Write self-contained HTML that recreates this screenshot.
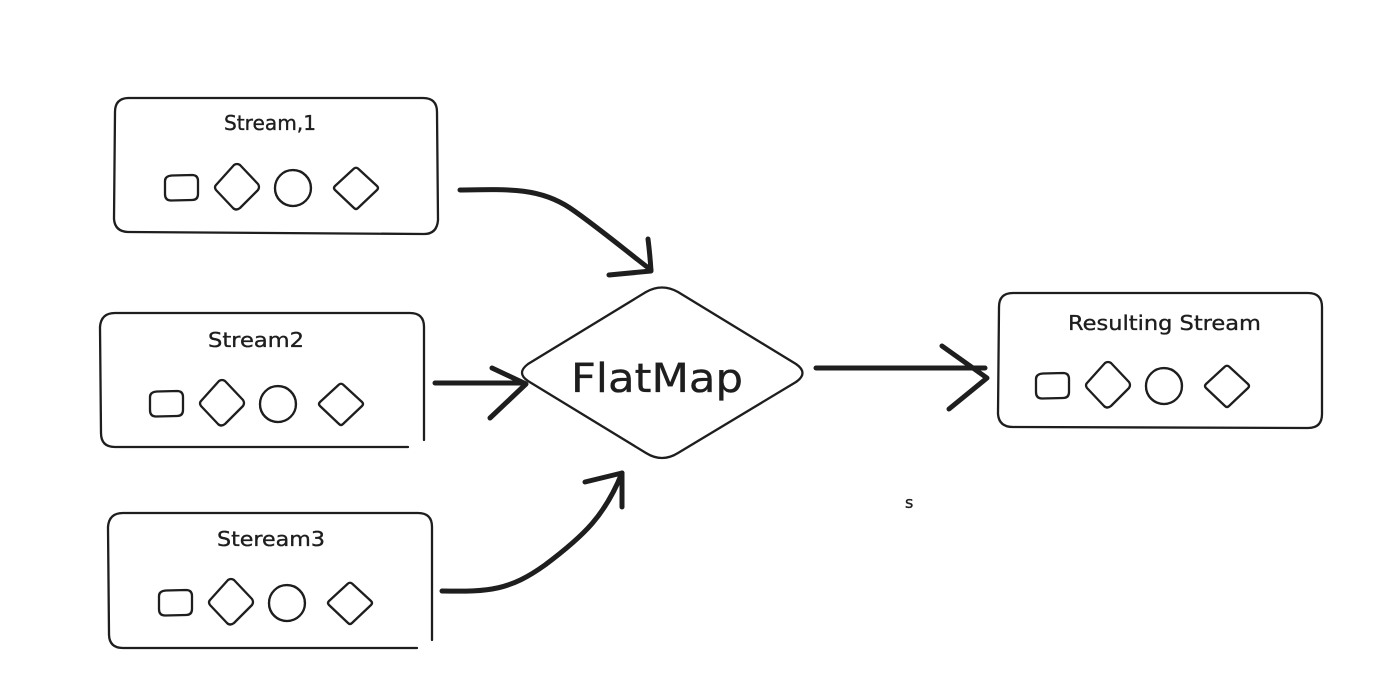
<!DOCTYPE html>
<html><head><meta charset="utf-8"><style>
html,body{margin:0;padding:0;background:#fff}
svg{display:block}
.b{fill:none;stroke:#1e1e1e;stroke-width:2.3;stroke-linecap:round;stroke-linejoin:round}
.i{fill:none;stroke:#1e1e1e;stroke-width:2.3;stroke-linecap:round;stroke-linejoin:round}
.t{fill:none;stroke:#1e1e1e;stroke-width:1.2}
.a{fill:none;stroke:#1e1e1e;stroke-width:5;stroke-linecap:round;stroke-linejoin:round}
text{font-family:"DejaVu Sans","Liberation Sans",sans-serif;fill:#1e1e1e;font-weight:400;stroke:#1e1e1e;stroke-width:.35}
</style></head><body>
<svg width="1400" height="695" viewBox="0 0 1400 695" xmlns="http://www.w3.org/2000/svg">
<defs>
<g id="items" class="i">
<path d="M172 175.500 L192 175 Q198 175 198 181 L198 194 Q198 200 192 200 L171 200.500 Q165 200.500 165 194 L165 181 Q165 176 172 175.500Z"/>
<path d="M234 165 Q237 163 240 165 L258 184 Q260 187 258 190 L240 208 Q236 211 233 208 L216 190 Q214 187 216 185 Z"/>
<circle cx="293" cy="188" r="18"/>
<circle class="t" cx="292.500" cy="188.500" r="18"/>
<path d="M354 168.500 Q356 167 358 168.500 L377 186 Q379 188 377 190 L358 208 Q356 210 354 208 L335 190 Q333 188 335 186 Z"/>
</g>
</defs>

<!-- Stream 1 -->
<path class="b" d="M129 98 Q115 98 115 112 L114 219 Q115 232 129 232 L424 234 Q437 234 438 220 L437 112 Q437 98 423 98 Z"/>
<use href="#items"/>
<text x="224" y="130" font-size="20" textLength="92" lengthAdjust="spacingAndGlyphs">Stream,1</text>

<!-- Stream 2 -->
<path class="b" d="M408 447 L115 447 Q101 447 101 433 L100 327 Q101 313 115 313 L410 313 Q424 313 424 327 L424 440"/>
<use href="#items" transform="translate(-15 216)"/>
<text x="208" y="347" font-size="20" textLength="96" lengthAdjust="spacingAndGlyphs">Stream2</text>

<!-- Stream 3 -->
<path class="b" d="M417 648 L123 648 Q109 648 109 634 L108 527 Q109 513 123 513 L418 513 Q432 513 432 527 L432 640"/>
<use href="#items" transform="translate(-6 415)"/>
<text x="217" y="546" font-size="20" textLength="108" lengthAdjust="spacingAndGlyphs">Steream3</text>

<!-- Resulting Stream -->
<path class="b" d="M1013 293 Q999 293 999 307 L998 414 Q999 427 1013 427 L1308 428 Q1322 428 1322 414 L1322 307 Q1322 293 1308 293 Z"/>
<use href="#items" transform="translate(871 198)"/>
<text x="1068" y="330" font-size="20" textLength="193" lengthAdjust="spacingAndGlyphs">Resulting Stream</text>

<!-- FlatMap diamond -->
<path class="b" d="M646 292 Q662 283 678 292 L796 364 Q809 373 796 382 L678 453 Q662 463 646 453 L528 381 Q516 373 528 364 Z"/>
<text x="571" y="392" font-size="40" textLength="172" lengthAdjust="spacingAndGlyphs">FlatMap</text>

<!-- Arrows -->
<path class="a" d="M460 190 C510 189 540 188 570 208 C595 225 625 250 651 270"/>
<path class="a" d="M648 239 Q650 255 651 271 Q630 273 609 275"/>
<path class="a" d="M435 383 L523 383"/>
<path class="a" d="M492 368 L526 384 L490 418"/>
<path class="a" d="M816 368 L985 368"/>
<path class="a" d="M942 346 L987 378 L949 409"/>
<path class="a" d="M442 591 C490 592 510 590 545 565 C585 535 605 515 622 473"/>
<path class="a" d="M585 482 L622 473 L622 507"/>

<text x="905" y="508" font-size="16">s</text>
</svg>
</body></html>
